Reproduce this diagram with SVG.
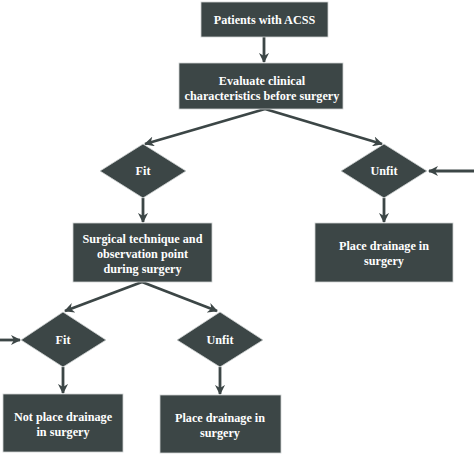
<svg xmlns="http://www.w3.org/2000/svg" width="474" height="474" viewBox="0 0 474 474">
<style>
.n{fill:#3c4646;stroke:#cfd3d3;stroke-width:0.8}
.t{font-family:"Liberation Serif","Times New Roman",serif;font-weight:bold;font-size:12.2px;fill:#ffffff;text-anchor:middle}
.c{stroke:#3c4646;stroke-width:2.8;fill:none;marker-end:url(#ah)}
</style>
<defs>
<marker id="ah" viewBox="0 0 10 10" refX="9" refY="5" markerWidth="3.6" markerHeight="3.6" orient="auto" markerUnits="strokeWidth">
<path d="M0,0 L10,5 L0,10 L3,5 Z" fill="#3c4646"/>
</marker>
</defs>
<rect width="474" height="474" fill="#ffffff"/>
<g id="connectors">
<line class="c" x1="264" y1="37" x2="264" y2="62"/>
<line class="c" x1="265" y1="109" x2="145" y2="144"/>
<line class="c" x1="265" y1="109" x2="382" y2="144"/>
<line class="c" x1="474" y1="171" x2="429" y2="171"/>
<line class="c" x1="143" y1="198" x2="143" y2="222"/>
<line class="c" x1="384" y1="198" x2="384" y2="222"/>
<line class="c" x1="142" y1="282" x2="65" y2="311"/>
<line class="c" x1="142" y1="282" x2="217" y2="311"/>
<line class="c" x1="0" y1="340" x2="20" y2="340"/>
<line class="c" x1="63" y1="367" x2="63" y2="393"/>
<line class="c" x1="220" y1="367" x2="220" y2="394"/>
</g>
<g id="n1">
<rect class="n" x="201" y="2" width="127" height="35"/>
<text class="t" x="264.5" y="24">Patients with ACSS</text>
</g>
<g id="n2">
<rect class="n" x="179" y="63" width="164" height="46"/>
<text class="t" x="262" y="85">Evaluate clinical</text>
<text class="t" x="262" y="99.5">characteristics before surgery</text>
</g>
<g id="d1">
<polygon class="n" points="143,144 186,171 143,198 100,171"/>
<text class="t" x="143" y="175">Fit</text>
</g>
<g id="d2">
<polygon class="n" points="384,144 427,171 384,198 341,171"/>
<text class="t" x="384" y="175">Unfit</text>
</g>
<g id="n3">
<rect class="n" x="73" y="223" width="139" height="59"/>
<text class="t" x="142.5" y="243">Surgical technique and</text>
<text class="t" x="142.5" y="257.5">observation point</text>
<text class="t" x="142.5" y="272.5">during surgery</text>
</g>
<g id="n4">
<rect class="n" x="315" y="223" width="138" height="59"/>
<text class="t" x="384" y="250">Place drainage in</text>
<text class="t" x="384" y="265">surgery</text>
</g>
<g id="d3">
<polygon class="n" points="63,312 106,340 63,367 21,340"/>
<text class="t" x="63" y="344">Fit</text>
</g>
<g id="d4">
<polygon class="n" points="220,312 263,340 220,367 177,340"/>
<text class="t" x="220" y="344">Unfit</text>
</g>
<g id="n5">
<rect class="n" x="3" y="394" width="120" height="58"/>
<text class="t" x="63" y="421">Not place drainage</text>
<text class="t" x="63" y="436">in surgery</text>
</g>
<g id="n6">
<rect class="n" x="160" y="395" width="121" height="58"/>
<text class="t" x="220" y="422">Place drainage in</text>
<text class="t" x="220" y="437">surgery</text>
</g>
</svg>
